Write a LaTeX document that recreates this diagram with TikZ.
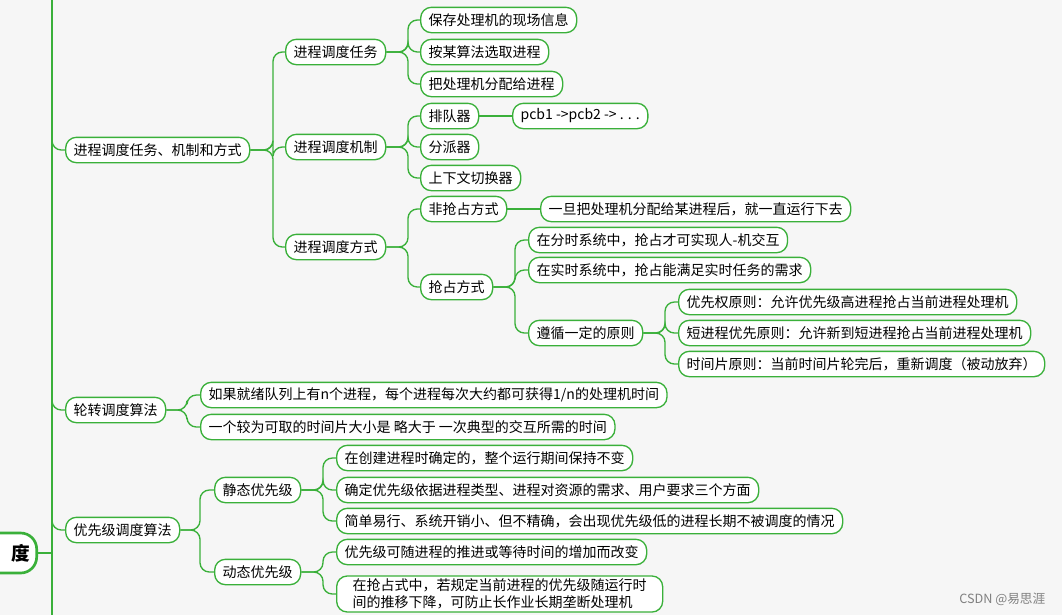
\documentclass[tikz,border=0pt]{standalone}
\usepackage{fontspec}
\newfontfamily\cjk{Noto Sans CJK SC}
\definecolor{gr}{RGB}{58,176,58}
\definecolor{bg}{RGB}{246,246,246}
\begin{document}
\begin{tikzpicture}[x=0.75pt,y=-0.75pt,
  box/.style={draw=gr,line width=1pt,fill=white,rounded corners=8pt,minimum height=19pt,inner xsep=6pt,inner ysep=2pt,font=\cjk\fontsize{10.5}{13}\selectfont,anchor=west},
  link/.style={draw=gr,line width=1pt,rounded corners=7pt}]
\fill[bg] (0,0) rectangle (1062,615);
\useasboundingbox (0,0) rectangle (1062,615);
% root
\node[draw=gr,line width=2pt,fill=white,rounded corners=12pt,minimum height=30pt,minimum width=60pt,anchor=east,font=\cjk\bfseries\fontsize{14}{16}\selectfont,align=right,text width=50pt] (root) at (38,553) {度};
\draw[link] (52,0) -- (52,615);
\draw[link] (root.east) -- (52,553);
% level 1
\node[box] (a) at (65,150) {进程调度任务、机制和方式};
\node[box] (b) at (65,410) {轮转调度算法};
\node[box] (c) at (65,530) {优先级调度算法};
\draw[link] (52,130) |- (a.west);
\draw[link] (52,390) |- (b.west);
\draw[link] (52,510) |- (c.west);
% level 2 under a
\coordinate (t1) at (273,0);
\node[box] (a1) at (285,52) {进程调度任务};
\node[box] (a2) at (285,147) {进程调度机制};
\node[box] (a3) at (285,247) {进程调度方式};
\foreach \k in {a1,a2,a3} \draw[link] (a.east) -- (a.east -| t1) |- (\k.west);
\coordinate (t2) at (408,0);
\node[box] (a11) at (420,20) {保存处理机的现场信息};
\node[box] (a12) at (420,52) {按某算法选取进程};
\node[box] (a13) at (420,84) {把处理机分配给进程};
\foreach \k in {a11,a12,a13} \draw[link] (a1.east) -- (a1.east -| t2) |- (\k.west);
\node[box] (a21) at (420,116) {排队器};
\node[box] (a22) at (420,147) {分派器};
\node[box] (a23) at (420,178) {上下文切换器};
\foreach \k in {a21,a22,a23} \draw[link] (a2.east) -- (a2.east -| t2) |- (\k.west);
\node[box] (a211) at (512,116) {pcb1 ->pcb2 -> . . .};
\draw[link] (a21.east) -- (a211.west);
\node[box] (a31) at (420,209) {非抢占方式};
\node[box] (a32) at (420,287) {抢占方式};
\foreach \k in {a31,a32} \draw[link] (a3.east) -- (a3.east -| t2) |- (\k.west);
\node[box] (a311) at (540,209) {一旦把处理机分配给某进程后，就一直运行下去};
\draw[link] (a31.east) -- (a311.west);
\coordinate (t3) at (515,0);
\node[box] (a321) at (528,240) {在分时系统中，抢占才可实现人-机交互};
\node[box] (a322) at (528,270) {在实时系统中，抢占能满足实时任务的需求};
\node[box] (a323) at (528,333) {遵循一定的原则};
\foreach \k in {a321,a322,a323} \draw[link] (a32.east) -- (a32.east -| t3) |- (\k.west);
\coordinate (t4) at (665,0);
\node[box] (p1) at (678,302) {优先权原则：允许优先级高进程抢占当前进程处理机};
\node[box] (p2) at (678,333) {短进程优先原则：允许新到短进程抢占当前进程处理机};
\node[box] (p3) at (678,364) {时间片原则：当前时间片轮完后，重新调度（被动放弃）};
\foreach \k in {p1,p2,p3} \draw[link] (a323.east) -- (a323.east -| t4) |- (\k.west);
% b
\coordinate (t5) at (187,0);
\node[box] (b1) at (200,395) {如果就绪队列上有n个进程，每个进程每次大约都可获得1/n的处理机时间};
\node[box] (b2) at (200,427) {一个较为可取的时间片大小是 略大于 一次典型的交互所需的时间};
\foreach \k in {b1,b2} \draw[link] (b.east) -- (b.east -| t5) |- (\k.west);
% c
\coordinate (t6) at (200,0);
\node[box] (c1) at (214,490) {静态优先级};
\node[box] (c2) at (214,572) {动态优先级};
\foreach \k in {c1,c2} \draw[link] (c.east) -- (c.east -| t6) |- (\k.west);
\coordinate (t7) at (323,0);
\node[box] (c11) at (336,458) {在创建进程时确定的，整个运行期间保持不变};
\node[box] (c12) at (336,490) {确定优先级依据进程类型、进程对资源的需求、用户要求三个方面};
\node[box] (c13) at (336,521) {简单易行、系统开销小、但不精确，会出现优先级低的进程长期不被调度的情况};
\foreach \k in {c11,c12,c13} \draw[link] (c1.east) -- (c1.east -| t7) |- (\k.west);
\node[box] (c21) at (336,552) {优先级可随进程的推进或等待时间的增加而改变};
\node[box,align=left,inner xsep=12pt] (c22) at (336,594) {在抢占式中，若规定当前进程的优先级随运行时\\间的推移下降，可防止长作业长期垄断处理机};
\foreach \k in {c21,c22} \draw[link] (c2.east) -- (c2.east -| t7) |- (\k.west);
\node[font=\cjk\fontsize{9.5}{11}\selectfont,text=gray,anchor=east] (wm) at (1050,599) {CSDN @易思涯};
\end{tikzpicture}
\end{document}
